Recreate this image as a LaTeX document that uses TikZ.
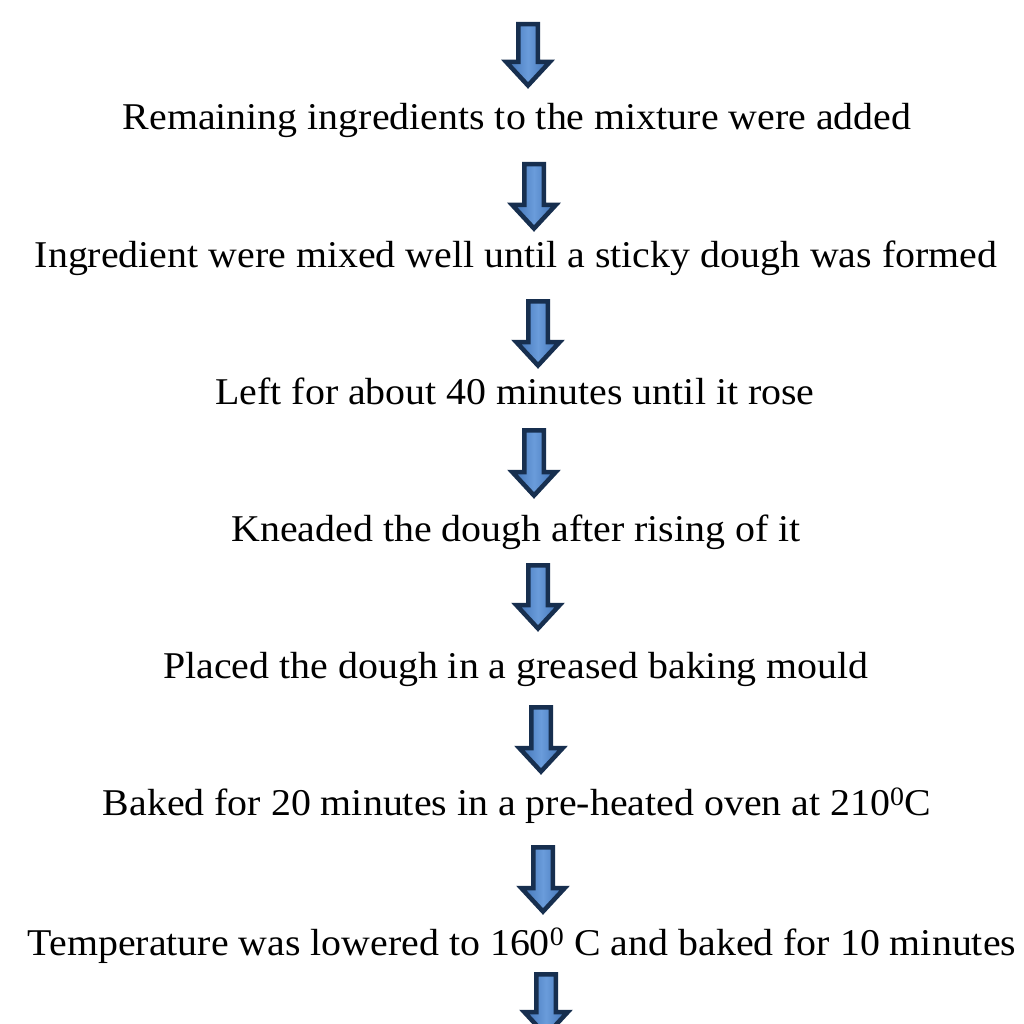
\documentclass[tikz,border=0pt]{standalone}
\usepackage{fontspec}
\setmainfont[FakeStretch=1.055]{Liberation Serif}
\definecolor{arrline}{HTML}{172F4F}
\definecolor{arrfill}{HTML}{3F70B3}
\definecolor{arrlight}{HTML}{6A9CDB}
\tikzset{
  steptext/.style={anchor=base, inner sep=0pt, font=\fontsize{37.8}{45}\selectfont, text=black},
  blockarrow/.style={draw=arrline, line width=4.5pt, line join=miter,
    left color=arrfill, right color=arrfill, middle color=arrlight, shading angle=90},
}
\newcommand{\blockarr}[4]{%
  \coordinate (#1) at (#2,#3);
  \draw[blockarrow]
    ([xshift=-9.75pt,yshift=-2.25pt]#1) -- ([xshift=9.75pt,yshift=-2.25pt]#1)
    -- ([xshift=9.75pt]#1 |- 0,#4) -- ([xshift=21.75pt]#1 |- 0,#4)
    -- (#2,#4+23.5) -- ([xshift=-21.75pt]#1 |- 0,#4)
    -- ([xshift=-9.75pt]#1 |- 0,#4) -- cycle;
}
\begin{document}
\begin{tikzpicture}[x=1pt,y=-1pt]
\useasboundingbox (0,0) rectangle (1024,1024);
\clip (0,0) rectangle (1024,1024);
\fill[white] (0,0) rectangle (1024,1024);
\blockarr{a1}{528}{22}{62}
\node[steptext] (t1) at (517,130) {Remaining ingredients to the mixture were added};
\blockarr{a2}{534}{162}{205}
\node[steptext] (t2) at (516,267) {Ingredient were mixed well until a sticky dough was formed};
\blockarr{a3}{538}{299}{342}
\node[steptext] (t3) at (515,404) {Left for about 40 minutes until it rose};
\blockarr{a4}{534}{428}{472}
\node[steptext] (t4) at (516,541) {Kneaded the dough after rising of it};
\blockarr{a5}{538}{563}{605}
\node[steptext] (t5) at (516,678) {Placed the dough in a greased baking mould};
\blockarr{a6}{541}{705}{748}
\node[steptext] (t6) at (517,815) {Baked for 20 minutes in a pre-heated oven at 210\textsuperscript{0}C};
\blockarr{a7}{543}{845}{888}
\node[steptext] (t7) at (522,955) {Temperature was lowered to 160\textsuperscript{0} C and baked for 10 minutes};
\blockarr{a8}{546}{972}{1012}
\end{tikzpicture}
\end{document}
